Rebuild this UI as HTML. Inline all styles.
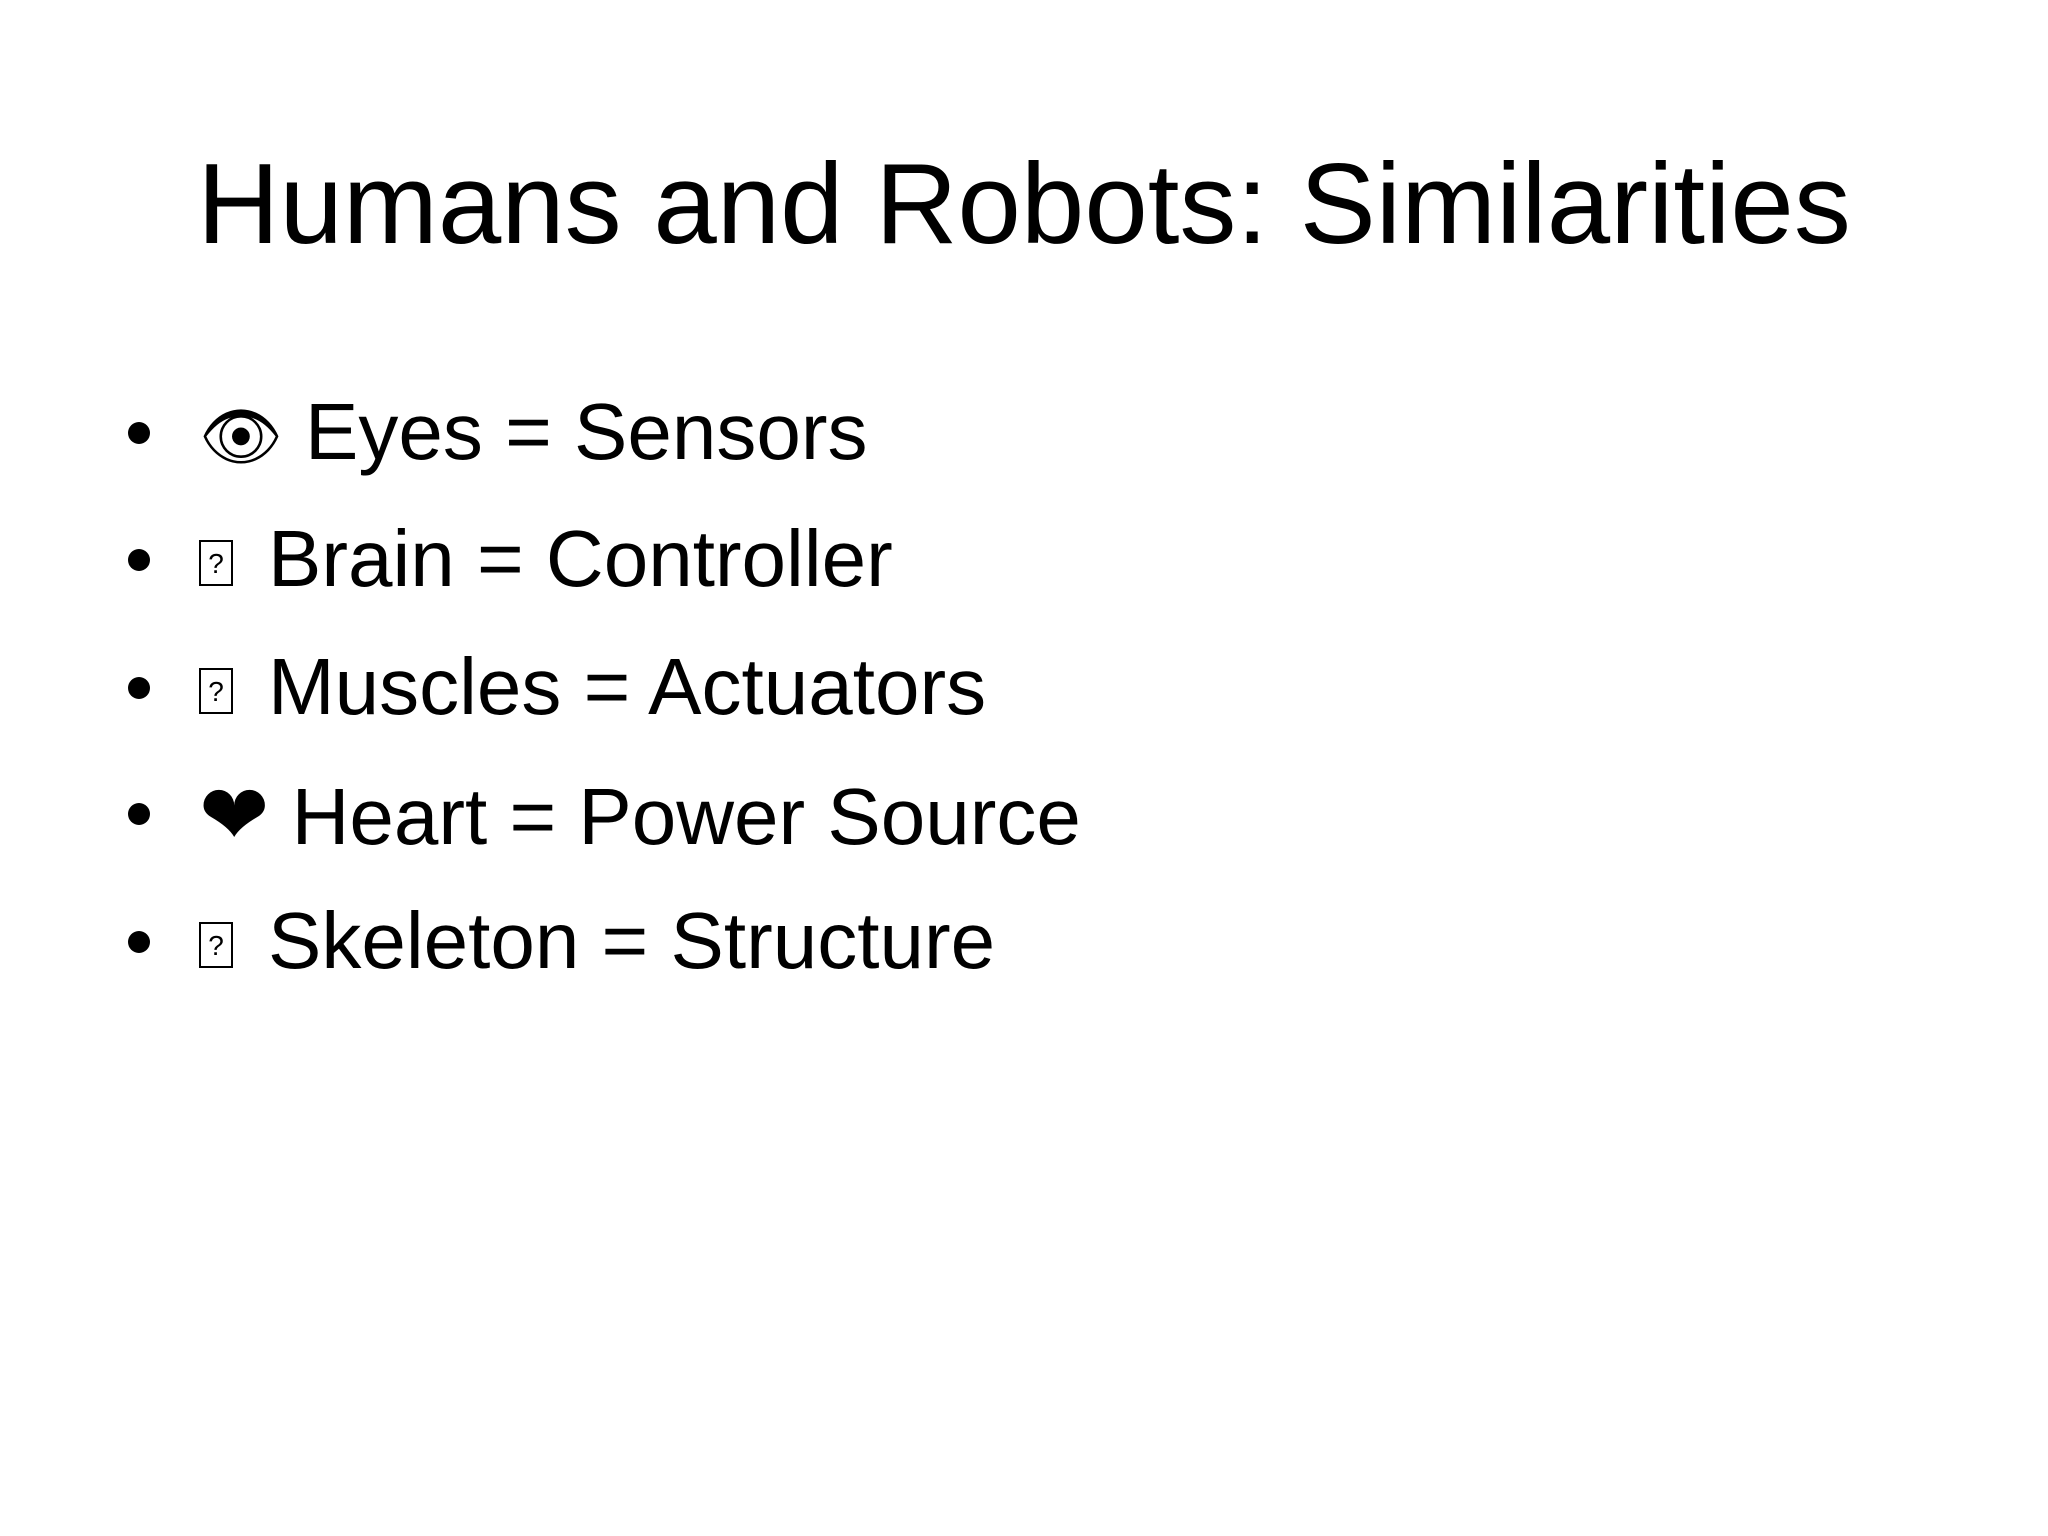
<!DOCTYPE html>
<html><head><meta charset="utf-8"><style>
html,body{margin:0;padding:0;background:#fff;}
body{width:2048px;height:1536px;position:relative;overflow:hidden;font-family:"Liberation Sans","DejaVu Sans",sans-serif;color:#000;}
.title{position:absolute;left:0;width:2048px;top:148px;text-align:center;font-size:114px;line-height:1;white-space:nowrap;}
.b{position:absolute;left:128px;font-size:80px;line-height:1;white-space:nowrap;}
.dot{display:inline-block;width:22px;height:22px;border-radius:50%;background:#000;position:absolute;left:0;top:30px;}
.t{position:absolute;left:71px;top:0;}
.box{display:inline-block;position:relative;width:34px;height:46px;border:2px solid #000;box-sizing:border-box;margin-right:35px;vertical-align:0;}
.box i{position:absolute;left:0;right:0;top:8px;font-style:normal;font-size:28px;text-align:center;line-height:1;}
</style></head><body>
<div class="title">Humans and Robots: Similarities</div>
<div class="b" style="top:392px"><span class="dot"></span><span class="t"><span style="font-family:'DejaVu Sans',sans-serif;font-size:66px">👁</span> Eyes = Sensors</span></div>
<div class="b" style="top:519px"><span class="dot"></span><span class="t"><span class="box"><i>?</i></span>Brain = Controller</span></div>
<div class="b" style="top:647px"><span class="dot"></span><span class="t"><span class="box"><i>?</i></span>Muscles = Actuators</span></div>
<div class="b" style="top:773px"><span class="dot"></span><span class="t"><span style="font-family:'DejaVu Sans',sans-serif;font-size:84px">❤</span> Heart = Power Source</span></div>
<div class="b" style="top:901px"><span class="dot"></span><span class="t"><span class="box"><i>?</i></span>Skeleton = Structure</span></div>
</body></html>
